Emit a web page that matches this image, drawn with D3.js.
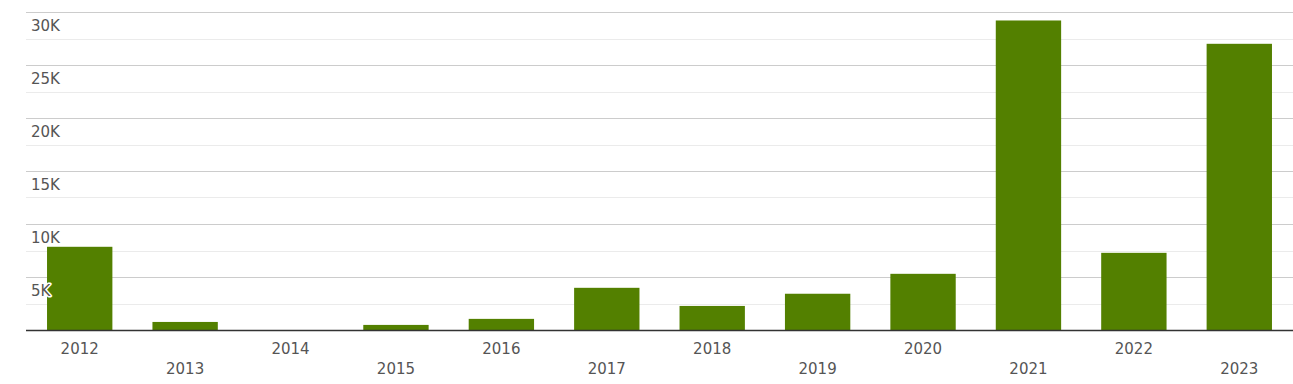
<!DOCTYPE html>
<html>
<head>
<meta charset="utf-8">
<script src="https://cdn.jsdelivr.net/npm/d3@7"></script>
<style>
  body { margin: 0; background: #fff; }
  svg text { font-family: "DejaVu Sans", sans-serif; font-size: 15px; fill: #555; }
</style>
</head>
<body>
<div id="chart"></div>
<script>
// data
const years = ['2012', '2013', '2014', '2015', '2016', '2017', '2018', '2019', '2020', '2021', '2022', '2023'];
const values = [7850, 760, 0, 480, 1050, 3980, 2270, 3420, 5300, 29200, 7280, 27000];
const yTicks = [5000, 10000, 15000, 20000, 25000, 30000];
const yMinor = [2500, 7500, 12500, 17500, 22500, 27500];

const W = 1293, H = 384;
const margin = {top: 12, right: 0, bottom: 54, left: 26};

const svg = d3.select('#chart').append('svg')
  .attr('width', W)
  .attr('height', H);

const x = d3.scaleBand()
  .domain(years)
  .range([margin.left + 1, W - margin.right - 1])
  .paddingInner(0.38)
  .paddingOuter(0.19);

const y = d3.scaleLinear()
  .domain([0, 30000])
  .range([H - margin.bottom, margin.top]);

// grid
svg.append('g').selectAll('line.minor')
  .data(yMinor).enter().append('line')
  .attr('x1', margin.left).attr('x2', W - margin.right)
  .attr('y1', d => Math.round(y(d)) + 0.5).attr('y2', d => Math.round(y(d)) + 0.5)
  .attr('stroke', '#ebebeb');

svg.append('g').selectAll('line.major')
  .data(yTicks).enter().append('line')
  .attr('x1', margin.left).attr('x2', W - margin.right)
  .attr('y1', d => Math.round(y(d)) + 0.5).attr('y2', d => Math.round(y(d)) + 0.5)
  .attr('stroke', '#cccccc');

// bars
svg.append('g').selectAll('rect')
  .data(values).enter().append('rect')
  .attr('x', (d, i) => x(years[i]))
  .attr('width', x.bandwidth())
  .attr('y', d => y(d))
  .attr('height', d => y(0) - y(d))
  .attr('fill', '#538000');

// baseline
svg.append('line')
  .attr('x1', margin.left).attr('x2', W - margin.right)
  .attr('y1', y(0) + 0.5).attr('y2', y(0) + 0.5)
  .attr('stroke', '#333').attr('stroke-width', 1.5);

// y labels, drawn over the bars with a white halo
svg.append('g').selectAll('text')
  .data(yTicks).enter().append('text')
  .attr('x', 31)
  .attr('y', d => y(d) + 19)
  .attr('stroke', '#fff').attr('stroke-width', 3)
  .attr('paint-order', 'stroke')
  .attr('stroke-linejoin', 'round')
  .text(d => d3.format('d')(d / 1000) + 'K');

// x labels, staggered
svg.append('g').selectAll('text')
  .data(years).enter().append('text')
  .attr('x', d => x(d) + x.bandwidth() / 2)
  .attr('y', (d, i) => i % 2 ? 374 : 354)
  .attr('text-anchor', 'middle')
  .text(d => d);
</script>
</body>
</html>
